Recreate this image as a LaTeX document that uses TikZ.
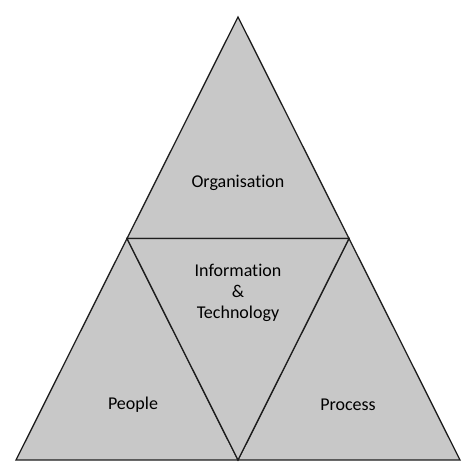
\documentclass[tikz,border=0pt]{standalone}
\usepackage{fontspec}
\setmainfont{Carlito}[Ligatures=NoCommon]
\usetikzlibrary{calc}
\definecolor{tfill}{RGB}{200,200,200}
\definecolor{tline}{RGB}{30,30,30}
\tikzset{
  part/.style={fill=tfill,draw=tline,line width=1.3pt,line join=miter},
  lbl/.style={font=\fontsize{18}{21}\selectfont,align=center,inner sep=0pt}
}
\begin{document}
\begin{tikzpicture}[x=1pt,y=-1pt]
\useasboundingbox (0,0) rectangle (474,471);

% corners of the big triangle and the side midpoints
\coordinate (top) at (238,17);
\coordinate (bl) at (16,460);
\coordinate (br) at (460,460);
\coordinate (ml) at ($(top)!0.5!(bl)$);
\coordinate (mr) at ($(top)!0.5!(br)$);
\coordinate (mb) at ($(bl)!0.5!(br)$);

% the four triangles
\draw[part] (top)--(ml)--(mr)--cycle;
\draw[part] (ml)--(bl)--(mb)--cycle;
\draw[part] (mr)--(mb)--(br)--cycle;
\draw[part] (ml)--(mr)--(mb)--cycle;

% labels
\node[lbl] (org) at (238,183) {Organisation};
\node[lbl] (it) at (238,293) {Information\\\&\\Technology};
\node[lbl] (people) at (133,405) {People};
\node[lbl] (process) at (348,405) {Process};

\end{tikzpicture}
\end{document}
